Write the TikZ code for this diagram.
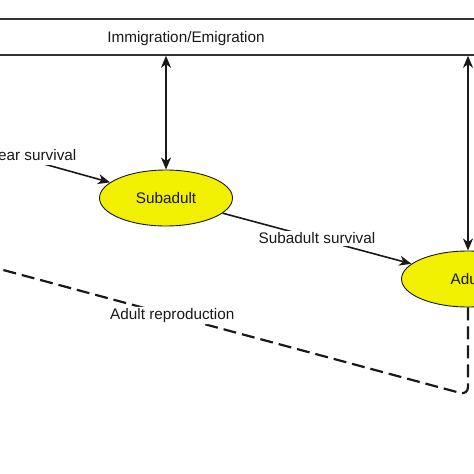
\documentclass[tikz,border=0pt]{standalone}
\usepackage{fontspec}
\setmainfont{Liberation Sans}
\usetikzlibrary{arrows.meta,shapes.geometric,positioning}
\definecolor{stageyellow}{HTML}{F0F000}

\begin{document}
\begin{tikzpicture}[
    x=1pt, y=-1pt,
    font=\fontsize{15.3}{18}\selectfont,
    text=black!90,
    >={Stealth[length=12pt,width=10pt,inset=3.5pt]},
    stage style/.style={ellipse, draw=black!90, line width=0.9pt, fill=stageyellow, minimum width=133pt, minimum height=56pt, inner sep=0pt},
    box style/.style={draw=black!80, line width=1.5pt, minimum width=640pt, minimum height=36pt, inner sep=0pt, text height=11pt, text depth=0pt},
    flow style/.style={line width=1.6pt, black!90},
    repro style/.style={line width=2.2pt, black!90, dash pattern=on 13pt off 6pt, rounded corners=8pt},
    label style/.style={fill=white, inner sep=1.5pt}
]
\clip (0,0) rectangle (474,474);
\node[box style] (mig) at (186,37) {Immigration/Emigration};
\node[stage style] (sub) at (166,198) {Subadult};
\node[stage style] (adult) at (468,279) {Adult};
\coordinate (juv) at (-78,130);
\coordinate (bend) at (468,395);
\coordinate (repro) at (-60,253);

% survival
\draw[flow style, ->] (juv) -- node[label style] {First-year survival} (sub);
\draw[flow style, ->] (sub) -- node[label style] {Subadult survival} (adult);

% movement
\draw[flow style, <->] (sub.north |- mig.south) -- (sub.north);
\draw[flow style, <->] (adult.north |- mig.south) -- (adult.north);

% reproduction
\draw[repro style] (adult.south) -- (bend) -- node[label style, pos=0.56] {Adult reproduction} (repro);
\end{tikzpicture}
\end{document}
